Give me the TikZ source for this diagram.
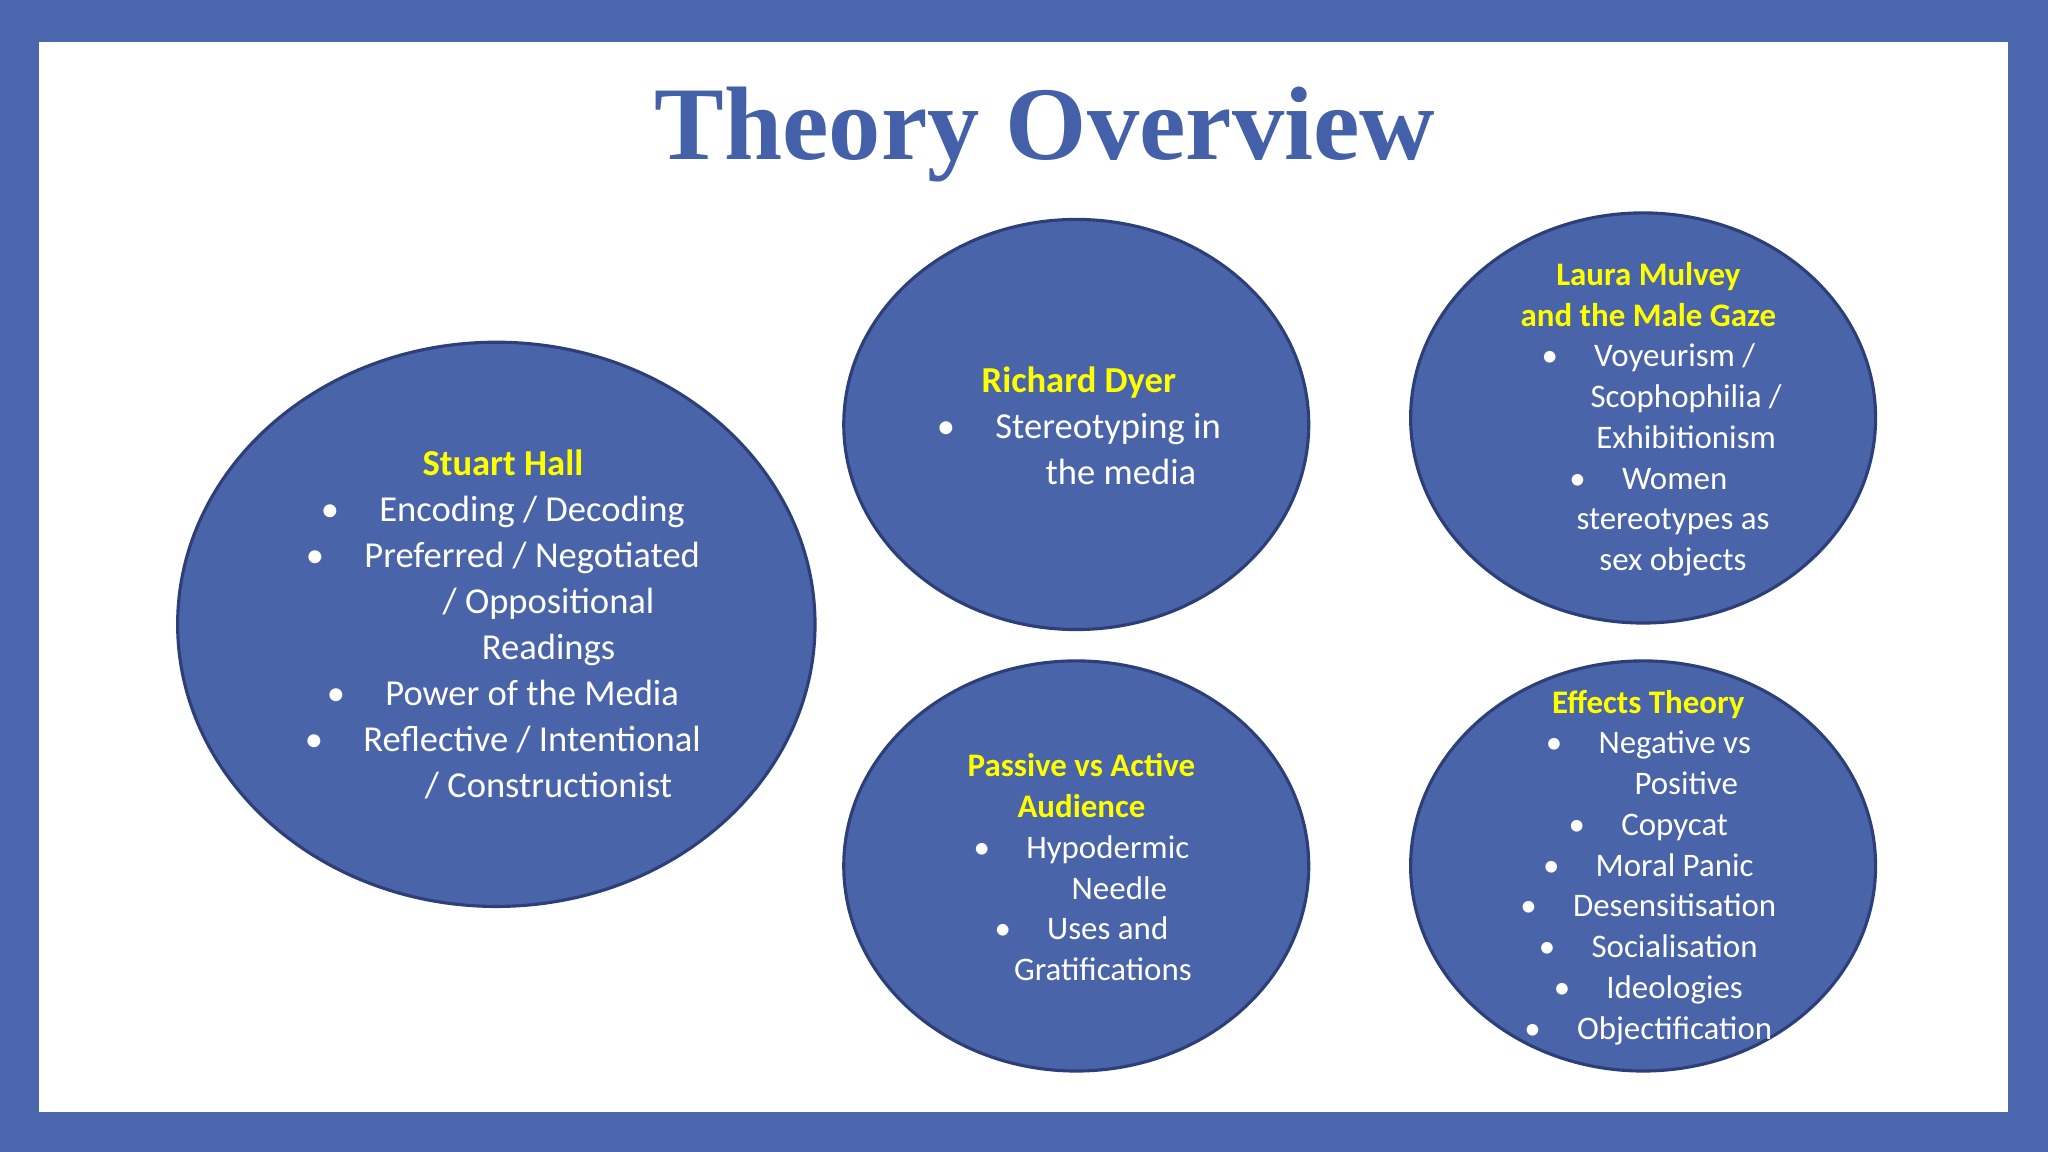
\documentclass[tikz,border=0pt]{standalone}
\usepackage{fontspec}
\setmainfont{Carlito}
\newfontfamily\titlefont{Liberation Serif}
\definecolor{frameblue}{HTML}{4A66AC}
\definecolor{ellblue}{HTML}{4A64AA}
\definecolor{ellline}{HTML}{2C3F78}
\definecolor{titleblue}{HTML}{4460A8}
\definecolor{hl}{HTML}{FFFF00}
\tikzset{
  theory/.style={draw=ellline, line width=1.2pt, fill=ellblue},
  big/.style={text=white, align=center, font=\fontsize{14}{17.6}\selectfont},
  small/.style={text=white, align=center, font=\fontsize{12.6}{15.6}\selectfont},
}
\newcommand{\hd}[1]{\textcolor{hl}{\textbf{#1}}}
\newcommand{\bl}{\textbullet\hspace{1.1em}}
\begin{document}
\begin{tikzpicture}[x=0.5pt,y=-0.5pt]
\fill[frameblue] (0,0) rectangle (1568,882);
\fill[white] (30,32) rectangle (1537,851);
\node (title) at (800,103) {\titlefont\bfseries\fontsize{40}{44}\selectfont\textcolor{titleblue}{Theory Overview}};
\draw[theory] (380,478) ellipse [x radius=244, y radius=216];
\draw[theory] (824,325) ellipse [x radius=178, y radius=157];
\draw[theory] (1258,320) ellipse [x radius=178, y radius=157];
\draw[theory] (824,663) ellipse [x radius=178, y radius=157];
\draw[theory] (1258,663) ellipse [x radius=178, y radius=157];
\node[big] (hall) at (385,478) {\hd{Stuart Hall}\\ \bl Encoding / Decoding\\ \bl Preferred / Negotiated\\ \hspace{2.5em}/ Oppositional\\ \hspace{2.5em}Readings\\ \bl Power of the Media\\ \bl Reflective / Intentional\\ \hspace{2.5em}/ Constructionist};
\node[big] (dyer) at (826,326) {\hd{Richard Dyer}\\ \bl Stereotyping in\\ \hspace{2.3em}the media};
\node[small] (mulvey) at (1262,321) {\hd{Laura Mulvey}\\ \hd{and the Male Gaze}\\ \bl Voyeurism /\\ \hspace{2.3em}Scophophilia /\\ \hspace{2.3em}Exhibitionism\\ \bl Women\\ \hspace{1.5em}stereotypes as\\ \hspace{1.5em}sex objects};
\node[small] (passive) at (828,664) {\hd{Passive vs Active}\\ \hd{Audience}\\ \bl Hypodermic\\ \hspace{2.3em}Needle\\ \bl Uses and\\ \hspace{1.3em}Gratifications};
\node[small] (effects) at (1262,664) {\hd{Effects Theory}\\ \bl Negative vs\\ \hspace{2.3em}Positive\\ \bl Copycat\\ \bl Moral Panic\\ \bl Desensitisation\\ \bl Socialisation\\ \bl Ideologies\\ \bl Objectification};
\end{tikzpicture}
\end{document}
